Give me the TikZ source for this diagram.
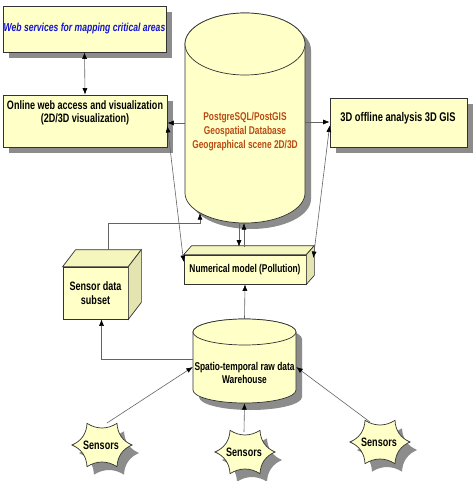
\documentclass[tikz,border=0pt]{standalone}
\usepackage{fontspec}
\setmainfont{Liberation Sans}
\newfontfamily\nar[FakeStretch=0.74]{Liberation Sans}
\usetikzlibrary{arrows.meta}
\definecolor{fillY}{RGB}{255,255,200}
\definecolor{sideY}{RGB}{228,228,176}
\definecolor{topY}{RGB}{245,245,190}
\definecolor{shd}{RGB}{140,140,140}
\definecolor{edgeC}{RGB}{50,50,50}
\definecolor{connC}{RGB}{100,100,100}
\definecolor{dbbrown}{RGB}{185,75,20}
\definecolor{webblue}{RGB}{20,20,210}
\tikzset{
  box/.style={draw=edgeC, fill=fillY, line width=0.7pt},
  shadowfill/.style={fill=shd, draw=none},
  lbl/.style={align=center, inner sep=0pt, font=\nar\bfseries\fontsize{#1}{13.5}\selectfont},
  lbl/.default=12,
  tipA/.tip={Latex[length=6.5pt,width=5pt,color=black]},
  conn/.style={draw=connC, line width=0.6pt, -tipA},
  biconn/.style={draw=connC, line width=0.6pt, tipA-tipA},
  pics/sensorstar/.style={code={
    \begin{scope}[shift={(7,-8)}]
      \fill[shadowfill] (30,0) to[bend left=32] (15,21.65) to[bend left=32] (-15,21.65) to[bend left=32] (-30,0) to[bend left=32] (-15,-21.65) to[bend left=32] (15,-21.65) to[bend left=32] (30,0) -- cycle;
    \end{scope}
    \filldraw[box] (30,0) to[bend left=32] (15,21.65) to[bend left=32] (-15,21.65) to[bend left=32] (-30,0) to[bend left=32] (-15,-21.65) to[bend left=32] (15,-21.65) to[bend left=32] (30,0) -- cycle;
  }}
}
\begin{document}
\begin{tikzpicture}[x=1pt,y=1pt]
\useasboundingbox[fill=white] (0,0) rectangle (474,-481);

% ---- Web services box
\fill[shadowfill] (9,-12) rectangle (172,-58);
\node[box, minimum width=163pt, minimum height=46pt, inner sep=0pt] (web) at (84.5,-29) {};
\node[align=center, inner sep=0pt, text=webblue, font=\nar\bfseries\itshape\fontsize{11.6}{13.5}\selectfont] (webT) at (84.5,-29) {Web services for mapping critical areas};

% ---- Online box
\fill[shadowfill] (9,-101) rectangle (173,-153);
\node[box, minimum width=164pt, minimum height=52pt, inner sep=0pt] (online) at (85,-121) {};
\node[align=center, inner sep=0pt, font=\nar\bfseries\fontsize{12.2}{13.5}\selectfont] (onlineT) at (85,-113) {Online web access and visualization\\(2D/3D visualization)};

% ---- 3D GIS box
\fill[shadowfill] (336,-104) rectangle (473,-153);
\node[box, minimum width=137pt, minimum height=49pt, inner sep=0pt] (gis) at (398.5,-122.5) {};
\node[lbl=12.6] (gisT) at (398,-118.5) {3D offline analysis 3D GIS};

% ---- Database cylinder
\begin{scope}[shift={(6,-6)}]
  \fill[shadowfill] (185,-44) -- (185,-193) arc[start angle=180,end angle=360,x radius=60pt,y radius=30pt] -- (305,-44) arc[start angle=0,end angle=180,x radius=60pt,y radius=31pt] -- cycle;
\end{scope}
\filldraw[box] (185,-44) -- (185,-193) arc[start angle=180,end angle=360,x radius=60pt,y radius=30pt] -- (305,-44) arc[start angle=0,end angle=180,x radius=60pt,y radius=31pt] -- cycle;
\draw[box] (245,-44) ellipse[x radius=60pt,y radius=31pt];
\node[minimum width=120pt, minimum height=210pt, inner sep=0pt] (dbbody) at (245,-118) {};
\node[align=center, inner sep=0pt, text=dbbrown, font=\nar\bfseries\fontsize{11.3}{14}\selectfont] (dbT) at (245,-132) {PostgreSQL/PostGIS\\Geospatial Database\\Geographical scene 2D/3D};

% ---- Numerical model (3D bar)
\node[box, minimum width=122pt, minimum height=29pt, inner sep=0pt, align=center, font=\nar\bfseries\fontsize{11.3}{13}\selectfont] (num) at (245,-269.5) {Numerical model (Pollution)};
\filldraw[box, fill=topY] (num.north west) -- ++(8,9) -- ([shift={(8,9)}]num.north east) -- (num.north east) -- cycle;
\filldraw[box, fill=sideY] (num.north east) -- ++(8,9) -- ([shift={(8,9)}]num.south east) -- (num.south east) -- cycle;

% ---- Sensor data subset (cube)
\node[box, minimum width=65pt, minimum height=52pt, inner sep=0pt, align=center, font=\nar\bfseries\fontsize{12.2}{14}\selectfont] (subset) at (95.5,-293) {Sensor data\\subset};
\filldraw[box, fill=topY] (subset.north west) -- ++(13,17) -- ([shift={(13,17)}]subset.north east) -- (subset.north east) -- cycle;
\filldraw[box, fill=sideY] (subset.north east) -- ++(13,17) -- ([shift={(13,17)}]subset.south east) -- (subset.south east) -- cycle;

% ---- Warehouse cylinder
\begin{scope}[shift={(6,-7)}]
  \fill[shadowfill] (193,-332) -- (193,-390) arc[start angle=180,end angle=360,x radius=51.5pt,y radius=13pt] -- (296,-332) arc[start angle=0,end angle=180,x radius=51.5pt,y radius=13pt] -- cycle;
\end{scope}
\filldraw[box] (193,-332) -- (193,-390) arc[start angle=180,end angle=360,x radius=51.5pt,y radius=13pt] -- (296,-332) arc[start angle=0,end angle=180,x radius=51.5pt,y radius=13pt] -- cycle;
\draw[box] (244.5,-332) ellipse[x radius=51.5pt,y radius=13pt];
\node[minimum width=103pt, minimum height=84pt, inner sep=0pt] (wh) at (244.5,-361) {};
\node[align=center, inner sep=0pt, font=\nar\bfseries\fontsize{11.3}{12.5}\selectfont] (whT) at (244.5,-373) {Spatio-temporal raw data\\Warehouse};

% ---- Sensors
\pic at (102,-445) {sensorstar};
\pic at (245,-452) {sensorstar};
\pic at (380,-442) {sensorstar};
\node[lbl=12.2] (s1) at (101,-445) {Sensors};
\node[lbl=12.2] (s2) at (244,-452) {Sensors};
\node[lbl=12.2] (s3) at (379,-442) {Sensors};

% ---- Connectors
\draw[biconn] (web.south) -- (online.north);
\coordinate (dbL) at ([yshift=-5pt]dbbody.west);
\draw[conn] (dbL) -- (dbL -| online.east);
\coordinate (dbR) at ([yshift=-4pt]dbbody.east);
\draw[conn] (dbR) -- (dbR -| gis.west);
\draw[biconn] ([yshift=-5pt]online.east) -- ([yshift=7.5pt]num.west);
\draw[biconn] ([yshift=-3pt]gis.west) -- ([shift={(7pt,11.5pt)}]num.east);
\draw[conn] ([xshift=-6pt]dbbody.south) -- ([shift={(-6pt,8pt)}]num.north);
\draw[conn] ([shift={(-1pt,8pt)}]num.north) -- ([xshift=-1pt]dbbody.south);
\draw[conn] (wh.north) -- (num.south);
\coordinate (dbBL) at ([shift={(-45pt,10pt)}]dbbody.south);
\draw[conn] ([shift={(12.5pt,17pt)}]subset.north) |- ([yshift=-10pt]dbBL) -- (dbBL);
\draw[conn] ([yshift=2pt]wh.west) -| ([xshift=6pt]subset.south);
\draw[conn] ([shift={(6pt,22pt)}]s1.center) -- ([yshift=-6pt]wh.west);
\draw[conn] ([yshift=20pt]s2.center) -- (wh.south);
\draw[conn] ([shift={(-9pt,20pt)}]s3.center) -- ([yshift=-6pt]wh.east);
\end{tikzpicture}
\end{document}
